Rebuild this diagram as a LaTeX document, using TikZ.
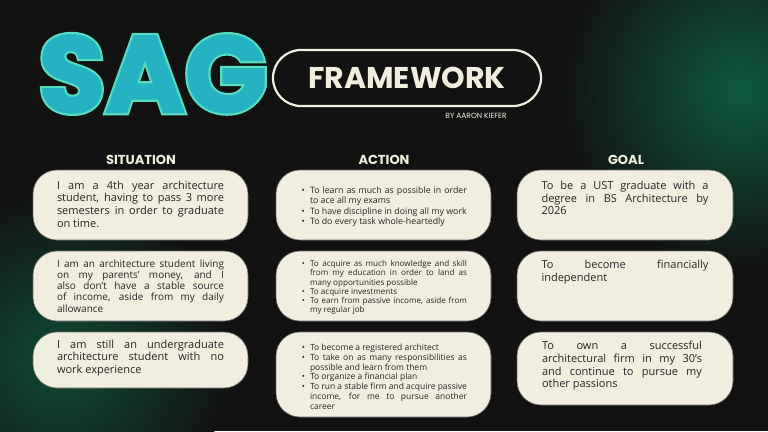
\documentclass[tikz,border=0pt]{standalone}
\usepackage{fontspec}
\setmainfont{Open Sans}
\newfontfamily\popp{Poppins}
\newfontfamily\sagout[FakeBold=6]{Poppins Bold}
\newfontfamily\sagin[FakeBold=2]{Poppins Bold}
\usepackage{enumitem}
\AtBeginDocument{\hyphenpenalty=10000 \exhyphenpenalty=10000}
\begin{document}
\begin{tikzpicture}[x=1pt,y=-1pt,
  box/.style={fill=cream,draw=black!60,line width=0.6pt,rounded corners=24pt,inner sep=0pt},
  hdr/.style={text=cream,font=\popp\fontsize{13}{14}\selectfont\bfseries},
  txt/.style={text=black!85,font=\fontsize{11}{12.6}\selectfont,text width=167pt,align=justify},
  itm/.style={text=black!85,font=\fontsize{8.8}{10.2}\selectfont,text width=166pt,align=justify},
  sagf/.style={inner sep=0,text depth=0pt,text height=60pt}]
\definecolor{cream}{HTML}{F1EEDF}
\definecolor{bgc}{HTML}{121212}
\definecolor{glow}{HTML}{0E5A3E}
\definecolor{sagA}{HTML}{25B3C4}
\definecolor{sagB}{HTML}{56DDC0}
\path[fill=bgc] (0,0) rectangle (768,431);
\begin{scope}
\clip (0,0) rectangle (768,431);
\shade[inner color=glow,outer color=bgc] (740,90) circle (180);
\shade[inner color=glow!80!bgc,outer color=bgc] (60,360) circle (170);
\end{scope}
\useasboundingbox (0,0) rectangle (768,431);
% title
\node[sagf,text=sagB,font=\sagout\fontsize{108}{108}\selectfont] (sago) at (153,82) {SAG};
\node[sagf,text=sagA,font=\sagin\fontsize{108}{108}\selectfont] (sag) at (153,82) {SAG};
\node[draw=cream,line width=2.2pt,rounded corners=28pt,minimum width=268pt,minimum height=56pt,
  text=cream,font=\popp\fontsize{30}{30}\selectfont\bfseries] (fw) at (407,78) {FRAMEWORK};
\node[text=cream,font=\popp\fontsize{7.5}{8}\selectfont] (by) at (476,116) {BY AARON KIEFER};
% headers
\node[hdr] (h1) at (141,160) {SITUATION};
\node[hdr] (h2) at (384,160) {ACTION};
\node[hdr] (h3) at (626,160) {GOAL};
% col 1
\path[box] (33,170) rectangle (248,240); \node[txt] (s1) at (140.5,204) {I am a 4th year architecture student, having to pass 3 more semesters in order to graduate on time.};
\path[box] (33,251) rectangle (248,321); \node[txt,font=\fontsize{10}{11.2}\selectfont] (s2) at (140.5,286) {I am an architecture student living on my parents' money, and I also don't have a stable source of income, aside from my daily allowance};
\path[box] (33,332) rectangle (248,388); \node[txt] (s3) at (140.5,358) {I am still an undergraduate architecture student with no work experience};
% col 2
\path[box] (276,170) rectangle (491,240);
\node[itm] (a1) at (384,205) {\begin{itemize}[leftmargin=9pt,itemsep=0pt,topsep=0pt,parsep=0pt,label=\textbullet]\item To learn as much as possible in order to ace all my exams \item To have discipline in doing all my work \item To do every task whole-heartedly\end{itemize}};
\path[box] (276,251) rectangle (491,321);
\node[itm,font=\fontsize{8.1}{9.2}\selectfont] (a2) at (384,286) {\begin{itemize}[leftmargin=9pt,itemsep=0pt,topsep=0pt,parsep=0pt,label=\textbullet]\item To acquire as much knowledge and skill from my education in order to land as many opportunities possible \item To acquire investments \item To earn from passive income, aside from my regular job\end{itemize}};
\path[box] (276,332) rectangle (491,417);
\node[itm,font=\fontsize{8.5}{9.9}\selectfont] (a3) at (384,375) {\begin{itemize}[leftmargin=9pt,itemsep=0pt,topsep=0pt,parsep=0pt,label=\textbullet]\item To become a registered architect \item To take on as many responsibilities as possible and learn from them \item To organize a financial plan \item To run a stable firm and acquire passive income, for me to pursue another career\end{itemize}};
% col 3
\path[box] (517,170) rectangle (733,240); \node[txt] (g1) at (625,198) {To be a UST graduate with a degree in BS Architecture by 2026};
\path[box] (517,251) rectangle (733,321); \node[txt] (g2) at (625,272) {To become financially independent};
\path[box] (517,332) rectangle (733,405); \node[txt,text width=160pt] (g3) at (622,366) {To own a successful architectural firm in my 30's and continue to pursue my other passions};
\end{tikzpicture}
\end{document}
